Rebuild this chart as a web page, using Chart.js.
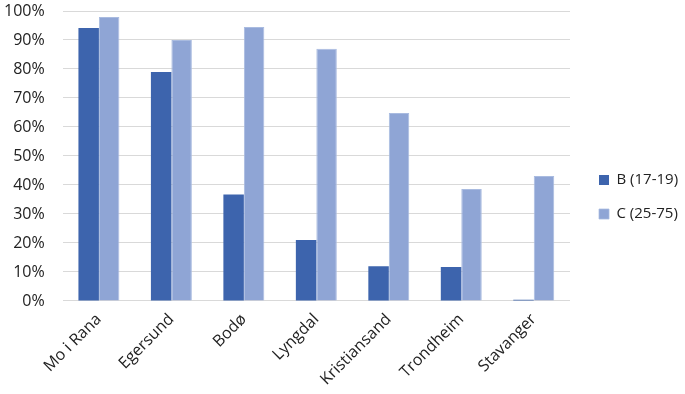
<!DOCTYPE html>
<html>
<head>
<meta charset="utf-8">
<script src="https://cdn.jsdelivr.net/npm/chart.js@4"></script>
<style>
html,body{margin:0;padding:0;background:#fff;}
#wrap{width:685px;height:394px;position:relative;}
</style>
</head>
<body>
<div id="wrap"><canvas id="c" width="685" height="394"></canvas></div>
<script>
const categories = ["Mo i Rana", "Egersund", "Bodø", "Lyngdal", "Kristiansand", "Trondheim", "Stavanger"];
const seriesB = [0.941, 0.79, 0.367, 0.21, 0.12, 0.117, 0.004];
const seriesC = [0.979, 0.90, 0.945, 0.87, 0.648, 0.386, 0.431];
const seriesNames = ["B (17-19)", "C (25-75)"];
const yTicks = [0, 0.1, 0.2, 0.3, 0.4, 0.5, 0.6, 0.7, 0.8, 0.9, 1.0];

const font = "'Open Sans', Lato, sans-serif";
const LEGEND_WIDTH = 115;
const LEGEND_PAD = 19;
const LEGEND_SHIFT = 10;
const Y_TICK_PAD = 18;
const legendShift = {
  id: 'legendShift',
  afterInit(chart) {
    const lg = chart.legend;
    const orig = lg.fit.bind(lg);
    lg.fit = function() { orig(); this.width = LEGEND_WIDTH; };
  },
  afterLayout(chart) {
    const lg = chart.legend;
    lg.left += LEGEND_SHIFT;
    lg.right += LEGEND_SHIFT;
  }
};

new Chart(document.getElementById('c'), {
  type: 'bar',
  data: {
    labels: categories,
    datasets: [
      {label: seriesNames[0], data: seriesB, backgroundColor: '#3d64ad', borderColor: '#3d64ad', borderWidth: 0},
      {label: seriesNames[1], data: seriesC, backgroundColor: '#8fa5d5', borderColor: '#a9bbe0', borderWidth: {top:1,left:1,right:1,bottom:0}}
    ]
  },
  plugins: [legendShift],
  options: {
    responsive: false,
    animation: false,
    devicePixelRatio: 1,
    layout: {padding: {left: 4, right: 0, top: 0, bottom: 0}},
    datasets: {bar: {barPercentage: 1.0, categoryPercentage: 0.565}},
    plugins: {
      legend: {
        position: 'right',
        labels: {boxWidth: 10, boxHeight: 10, padding: LEGEND_PAD, color: '#222', font: {family: font, size: 15}}
      },
      tooltip: {enabled: false}
    },
    scales: {
      x: {
        grid: {display: false},
        border: {display: false},
        afterFit: (s) => { s.paddingLeft = 0; s.paddingRight = 0; s.height += 4; },
        ticks: {minRotation: 45, maxRotation: 45, color: '#222', font: {family: font, size: 16}, padding: 1}
      },
      y: {
        min: 0, max: 1,
        afterBuildTicks: (s) => { s.ticks = yTicks.map(v => ({value: v})); },
        afterFit: (s) => {
          s.paddingTop = 11; s.paddingBottom = 10;
          if (s._labelSizes) s.width = s._labelSizes.widest.width + Y_TICK_PAD;
        },
        grid: {color: '#d9d9d9', lineWidth: 1, drawTicks: false},
        border: {display: false},
        ticks: {color: '#222', padding: Y_TICK_PAD, font: {family: font, size: 16},
          callback: (v) => Math.round(v * 100) + '%'}
      }
    }
  }
});
</script>
</body>
</html>
